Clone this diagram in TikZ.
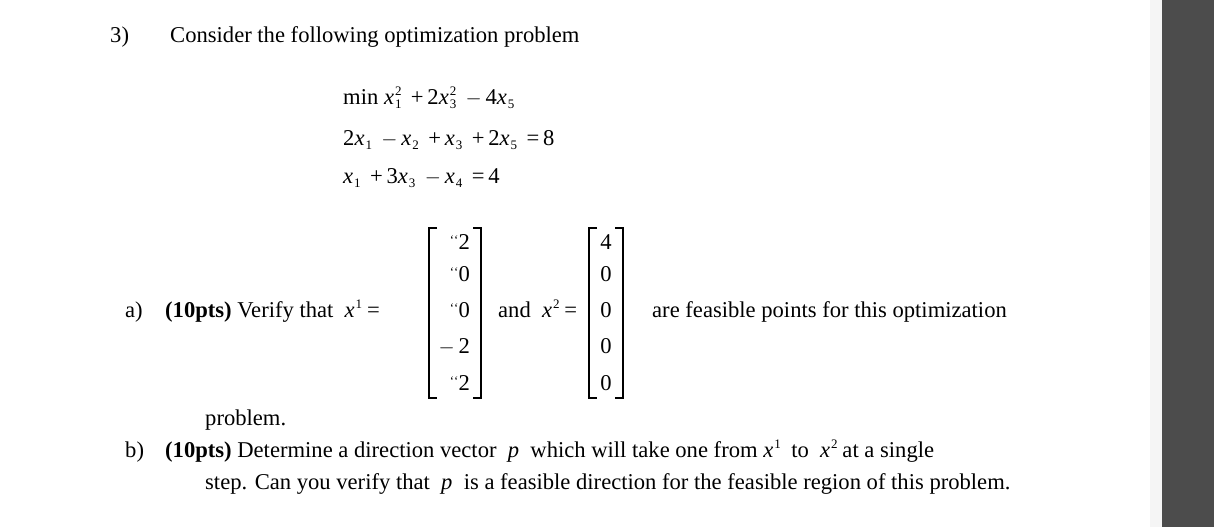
\documentclass[tikz,border=0pt]{standalone}
\usepackage{fontspec}
\setmainfont{Liberation Serif}
\newcommand\sm[1]{{\fontsize{13}{13}\selectfont #1}}
\newcommand\vx[2]{\textit{x}\kern1pt\rlap{\raisebox{0.8ex}{\sm{#2}}}\raisebox{-0.45ex}{\sm{#1}}}
\newcommand\grv[1]{\raisebox{0.4ex}{\sm{\symbol{96}\kern0pt\symbol{96}}}#1}
\begin{document}
\begin{tikzpicture}[x=1pt,y=-1pt,every node/.style={inner sep=0pt,anchor=base west,font=\fontsize{22.6}{26}\selectfont},
br/.style={line width=1.2pt}]
\useasboundingbox (0,0) rectangle (1214,527);
\fill[white] (0,0) rectangle (1214,527);
\fill[black!4] (1150,0) rectangle (1162,527);
\fill[black!70] (1162,0) rectangle (1214,527);
\node (n3) at (110,43) {3)};
\node (t1) at (170,43) {Consider the following optimization problem};
\node (m1) at (343,104) {min \vx{1}{2}\ \,+\,2\vx{3}{2}\ \,$-$\,4\vx{5}{}};
\node (m2) at (343,145) {2\vx{1}{}\ \,$-$\,\vx{2}{}\ \,+\,\vx{3}{}\ \,+\,2\vx{5}{}\ \,=\,8};
\node (m3) at (343,183) {\vx{1}{}\ \,+\,3\vx{3}{}\ \,$-$\,\vx{4}{}\ \,=\,4};
\node (a) at (125,317) {a)};
\node (a2) at (165,317) {\textbf{(10pts)} Verify that\ \ \vx{}{1}\ \ =};
\node (and) at (498,317) {and\ \ \vx{}{2}\ \ =};
\node (are) at (652,317) {are feasible points for this optimization};
% matrix 1
\draw[br] (437,228) -- (429,228) -- (429,398) -- (437,398);
\draw[br] (473,228) -- (481,228) -- (481,398) -- (473,398);
\foreach \v/\y [count=\i] in {{\grv{2}}/249,{\grv{0}}/281,{\grv{0}}/317,{$-$\,2}/353,{\grv{2}}/390}
  \node[anchor=base east] (p\i) at (470,\y) {\v};
% matrix 2
\draw[br] (597,228) -- (589,228) -- (589,398) -- (597,398);
\draw[br] (615,228) -- (623,228) -- (623,398) -- (615,398);
\foreach \y [count=\i] in {249,281,317,353,390}
  \node[anchor=base] (q\i) at (606,\y) {\ifnum\i=1 4\else 0\fi};
\node (pr) at (205,425) {problem.};
\node (b) at (125,457) {b)};
\node (b2) at (165,457) {\textbf{(10pts)} Determine a direction vector\ \ \textit{p}\ \ which will take one from\ \vx{}{1}\ \ \ to\ \ \vx{}{2}\ \ at a single};
\node (s) at (205,489) {step. Can you verify that\ \ \textit{p}\ \ is a feasible direction for the feasible region of this problem.};
\end{tikzpicture}
\end{document}
